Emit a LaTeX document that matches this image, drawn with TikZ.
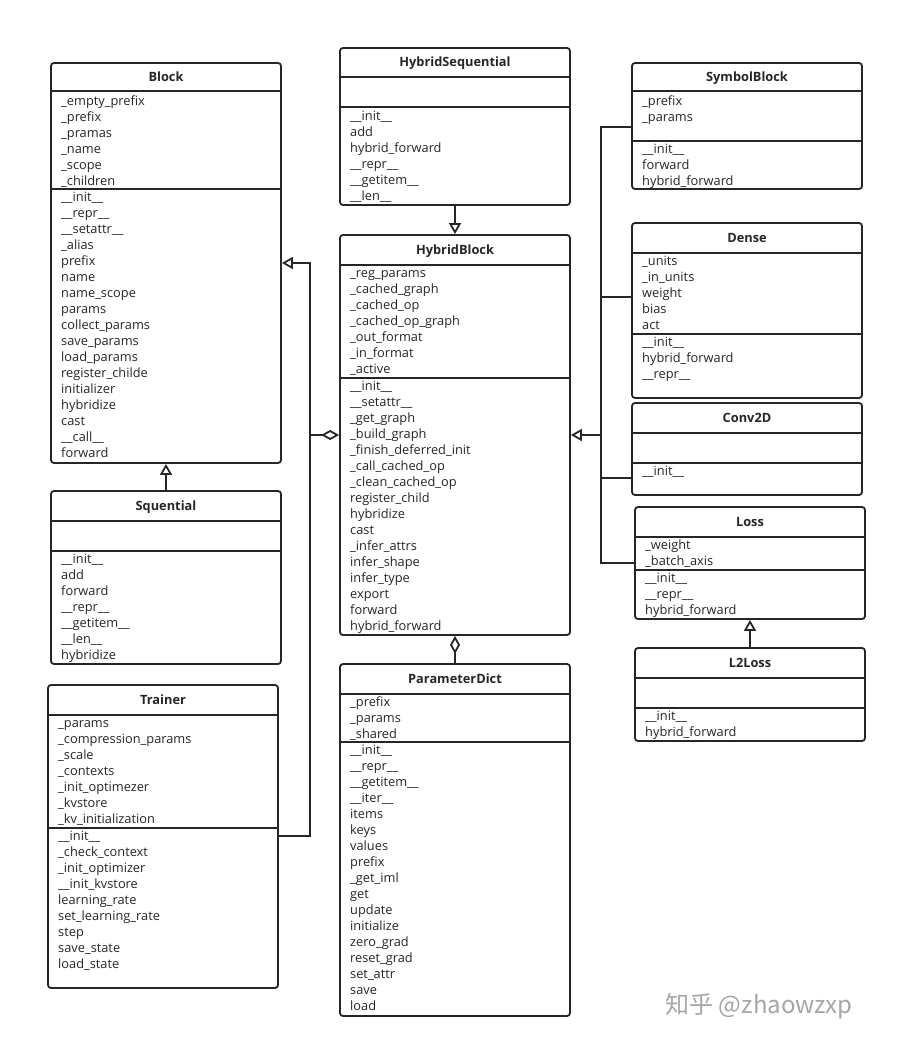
\documentclass[tikz,border=0pt]{standalone}
\usepackage{fontspec}
\setmainfont{Open Sans}
\newfontfamily\cjk{Noto Sans CJK SC}
\usetikzlibrary{arrows.meta,calc}
\AtBeginDocument{\catcode`\_=12}
\tikzset{
  box/.style={draw=black!85,line width=1.8pt,rounded corners=3pt},
  sep/.style={draw=black!85,line width=1.8pt},
  item/.style={anchor=base west,inner sep=0pt,font=\fontsize{12.8}{14}\selectfont,text=black!85},
  ttl/.style={anchor=base,inner sep=0pt,font=\fontsize{12.8}{14}\selectfont\bfseries,text=black!85},
  conn/.style={draw=black!85,line width=1.8pt},
  inh/.style={conn,-{Triangle[open,length=11pt,width=12pt,line width=1.8pt]}},
  agg/.style={conn,-{Diamond[open,length=18pt,width=10pt,line width=1.8pt]}},
}
% name x1 y1 x2 y2 ytitle ysep title
\newcommand\umlbox[8]{%
  \node[box,minimum width=#4-#2,minimum height=#5-#3,inner sep=0pt] (#1) at ({(#2+#4)/2},{(#3+#5)/2}) {};
  \draw[sep] (#2,#6) -- (#4,#6);
  \draw[sep] (#2,#7) -- (#4,#7);
  \node[ttl] (#1-t) at ({(#2+#4)/2},{(#3+#6)/2+4.5}) {#8};
}
% x y0 list
\newcommand\umllines[3]{%
  \foreach \t [count=\i from 0] in {#3} {\node[item] at (#1+10,#2+16*\i+4.5) {\t};}
}
\begin{document}
\begin{tikzpicture}[x=1pt,y=-1pt]
\useasboundingbox (0,0) rectangle (897,1048);
\fill[white] (0,0) rectangle (897,1048);

\umlbox{block}{51}{63}{281}{463}{91}{189}{Block}
\umllines{51}{101}{_empty_prefix,_prefix,_pramas,_name,_scope,_children}
\umllines{51}{197}{__init__,__repr__,__setattr__,_alias,prefix,name,name_scope,params,collect_params,save_params,load_params,register_childe,initializer,hybridize,cast,__call__,forward}

\umlbox{hs}{340}{48}{570}{205}{77}{107}{HybridSequential}
\umllines{340}{116}{__init__,add,hybrid_forward,__repr__,__getitem__,__len__}

\umlbox{hb}{340}{235}{570}{635}{265}{378}{HybridBlock}
\umllines{340}{273}{_reg_params,_cached_graph,_cached_op,_cached_op_graph,_out_format,_in_format,_active}
\umllines{340}{386}{__init__,__setattr__,_get_graph,_build_graph,_finish_deferred_init,_call_cached_op,_clean_cached_op,register_child,hybridize,cast,_infer_attrs,infer_shape,infer_type,export,forward,hybrid_forward}

\umlbox{sb}{632}{63}{862}{189}{91}{141}{SymbolBlock}
\umllines{632}{101}{_prefix,_params}
\umllines{632}{149}{__init__,forward,hybrid_forward}

\umlbox{dense}{632}{223}{862}{398}{253}{334}{Dense}
\umllines{632}{261}{_units,_in_units,weight,bias,act}
\umllines{632}{342}{__init__,hybrid_forward,__repr__}

\umlbox{conv}{632}{403}{862}{495}{433}{463}{Conv2D}
\umllines{632}{471}{__init__}

\umlbox{loss}{635}{507}{865}{619}{537}{570}{Loss}
\umllines{635}{545}{_weight,_batch_axis}
\umllines{635}{578}{__init__,__repr__,hybrid_forward}

\umlbox{l2}{635}{648}{865}{741}{678}{708}{L2Loss}
\umllines{635}{716}{__init__,hybrid_forward}

\umlbox{sq}{51}{491}{281}{664}{521}{551}{Squential}
\umllines{51}{559}{__init__,add,forward,__repr__,__getitem__,__len__,hybridize}

\umlbox{tr}{48}{685}{278}{988}{715}{828}{Trainer}
\umllines{48}{723}{_params,_compression_params,_scale,_contexts,_init_optimezer,_kvstore,_kv_initialization}
\umllines{48}{836}{__init__,_check_context,_init_optimizer,__init_kvstore,learning_rate,set_learning_rate,step,save_state,load_state}

\umlbox{pd}{340}{664}{570}{1016}{694}{742}{ParameterDict}
\umllines{340}{702}{_prefix,_params,_shared}
\umllines{340}{750}{__init__,__repr__,__getitem__,__iter__,items,keys,values,prefix,_get_iml,get,update,initialize,zero_grad,reset_grad,set_attr,save,load}

% connectors
\draw[inh] (hs.south) -- (hb.north);
\draw[inh] (sq.north -| 166,0) -- (block.south -| 166,0);
\draw[inh] (l2.north -| 750,0) -- (loss.south -| 750,0);
\draw[agg] (pd.north) -- (hb.south);

\coordinate (lj) at (310,435);
\draw[agg] (lj) -- (hb.west |- lj);
\draw[inh] (lj) -- (310,263) -- (block.east |- 0,263);
\draw[conn] (lj) -- (310,836) -- (tr.east |- 0,836);

\coordinate (rj) at (601,435);
\draw[inh] (rj) -- (hb.east |- rj);
\draw[conn] (sb.west |- 0,127) -- (601,127) -- (601,563) -- (loss.west |- 0,563);
\draw[conn] (dense.west |- 0,297) -- (601,297);
\draw[conn] (conv.west |- 0,478) -- (601,478);

\node[font=\cjk\fontsize{24}{26}\selectfont,text=black!35,anchor=west] (wm) at (662,1006) {知乎 @zhaowzxp};
\end{tikzpicture}
\end{document}
